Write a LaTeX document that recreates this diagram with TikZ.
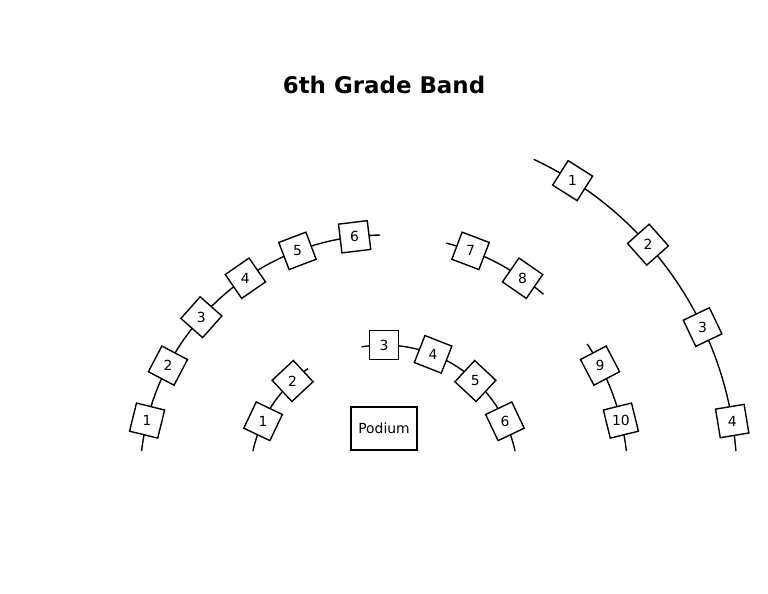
\documentclass[tikz,border=0pt]{standalone}
\usepackage{fontspec}
\setmainfont{DejaVu Sans}
\usetikzlibrary{shapes.geometric}

\begin{document}
\begin{tikzpicture}[x=0.72pt,y=0.72pt,line width=1pt,
  seat/.style={draw,fill=white,regular polygon,regular polygon sides=4,
    minimum size=29.5pt,inner sep=0pt,font=\fontsize{10}{12}\selectfont}]
\useasboundingbox (0,0) rectangle (768,593);
\coordinate (ctr) at (384,114);
\node[font=\fontsize{16.5}{20}\selectfont\bfseries,anchor=base] (title) at (384,499) {6th Grade Band};
% rows, cut off at the floor line
\begin{scope}
\clip (0,143) rectangle (768,593);
\draw ([shift={(175:134)}]ctr) arc[start angle=175,end angle=124.5,radius=134];
\draw ([shift={(99.6:134)}]ctr) arc[start angle=99.6,end angle=5,radius=134];
\draw ([shift={(178:244)}]ctr) arc[start angle=178,end angle=90.9,radius=244];
\draw ([shift={(75.2:244)}]ctr) arc[start angle=75.2,end angle=49.2,radius=244];
\draw ([shift={(33.6:244)}]ctr) arc[start angle=33.6,end angle=2,radius=244];
\draw ([shift={(64.9:353)}]ctr) arc[start angle=64.9,end angle=1,radius=353];
\end{scope}
% seats
\foreach \n/\a [evaluate=\a as \r using \a-90] in {1/154.5,2/133,3/90,4/68.5,5/47,6/25.5}
  \node[seat,shape border rotate=\r] (a\n) at ([shift={(\a:134)}]ctr) {\n};
\foreach \n/\a [evaluate=\a as \r using \a-90] in {1/166.15,2/152.31,3/138.46,4/124.62,5/110.77,6/96.92,7/69.23,8/55.38,9/27.69,10/13.85}
  \node[seat,shape border rotate=\r] (b\n) at ([shift={(\a:244)}]ctr) {\n};
\foreach \n/\a [evaluate=\a as \r using \a-90] in {1/57.7,2/41.6,3/25.5,4/9.45}
  \node[seat,shape border rotate=\r] (c\n) at ([shift={(\a:353)}]ctr) {\n};
\node[draw,minimum width=47.5pt,minimum height=31pt,font=\fontsize{10}{12}\selectfont] (podium) at (384,164.5) {Podium};
\end{tikzpicture}
\end{document}
